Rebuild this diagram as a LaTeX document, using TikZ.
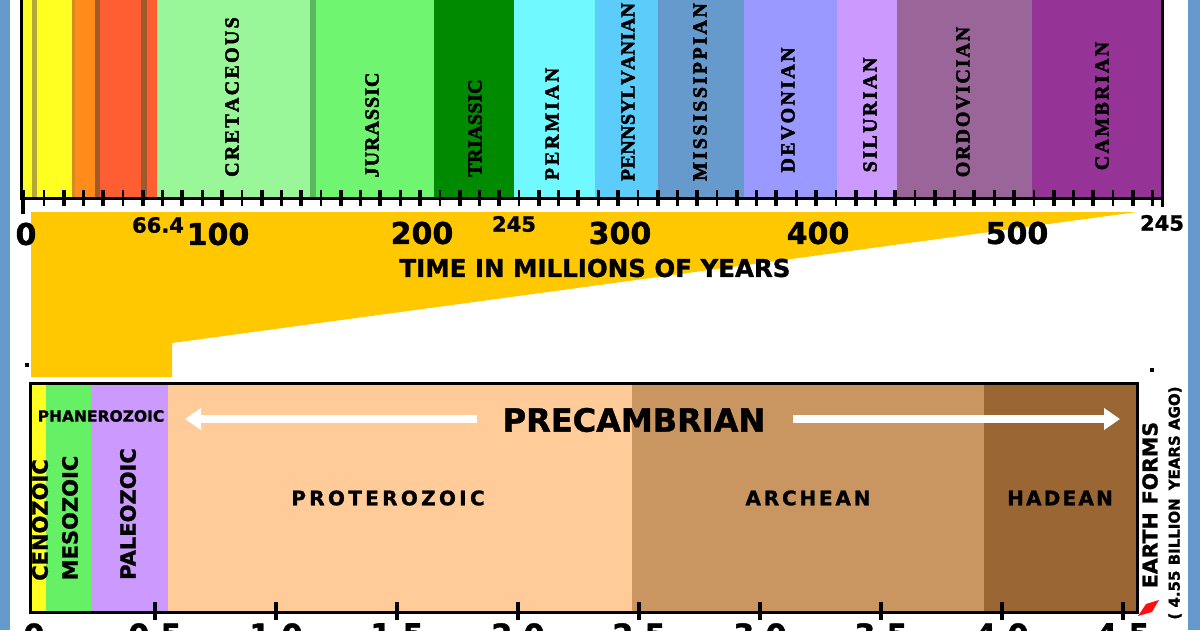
\documentclass[tikz,border=0pt]{standalone}
\usepackage{fontspec}
\setmainfont{DejaVu Sans}[BoldFeatures={FakeBold=1.2}]
\newfontfamily\serifb{Liberation Serif}[BoldFeatures={FakeBold=2.5}]
\usetikzlibrary{arrows.meta}
\definecolor{cBlue}{HTML}{6699CC}
\definecolor{cYel}{HTML}{FFFF22}
\definecolor{cOlive}{HTML}{B4A838}
\definecolor{cOrgLine}{HTML}{D98A1F}
\definecolor{cOrange}{HTML}{FF8C1A}
\definecolor{cBrown}{HTML}{A0592A}
\definecolor{cRed}{HTML}{FF5E33}
\definecolor{cLgreen}{HTML}{99F799}
\definecolor{cStripe}{HTML}{5CB85C}
\definecolor{cGreen}{HTML}{70F570}
\definecolor{cDgreen}{HTML}{008A00}
\definecolor{cCyan}{HTML}{70FAFF}
\definecolor{cLblue}{HTML}{5CCCFA}
\definecolor{cSteel}{HTML}{6699CC}
\definecolor{cPeri}{HTML}{9999FF}
\definecolor{cLpurp}{HTML}{CC99FF}
\definecolor{cMauve}{HTML}{9A6699}
\definecolor{cPurp}{HTML}{953397}
\definecolor{cGold}{HTML}{FFC800}
\definecolor{cMes}{HTML}{66F066}
\definecolor{cPro}{HTML}{FFCC99}
\definecolor{cArc}{HTML}{C99662}
\definecolor{cHad}{HTML}{9A6634}
\definecolor{cFlag}{HTML}{FF1010}
\newdimen\lsp
\def\spaceout#1{\spaceoutA#1\relax\unskip}
\def\spaceoutA#1{\ifx#1\relax\else#1\hskip\lsp\expandafter\spaceoutA\fi}
\tikzset{
  period/.style={rotate=90, inner sep=0pt, font=\serifb\bfseries\fontsize{20}{20}\selectfont},
  bignum/.style={inner sep=0pt, font=\bfseries\fontsize{30}{30}\selectfont},
  smallnum/.style={inner sep=0pt, font=\bfseries\fontsize{21}{21}\selectfont},
  eralbl/.style={rotate=90, inner sep=0pt, font=\bfseries\fontsize{21}{21}\selectfont},
  eonlbl/.style={inner sep=0pt, font=\bfseries\fontsize{20}{20}\selectfont},
  bigarrow/.style={white, line width=8pt, -{Triangle[length=16pt,width=21pt]}},
  tickline/.style={line width=4pt},
  border/.style={line width=3pt}
}
\begin{document}
\begin{tikzpicture}[x=1pt,y=-1pt]
\useasboundingbox (0,0) rectangle (1200,630);
\clip (0,0) rectangle (1200,630);
\fill[white] (0,0) rectangle (1200,630);
% blue frame
\fill[cBlue] (0,0) rectangle (10,630);
\fill[cBlue] (1188,0) rectangle (1200,630);
% ===== top chart bands
\fill[cYel] (22,0) rectangle (72,197);
\fill[cOlive] (32,0) rectangle (37,197);
\fill[cOrgLine] (72,0) rectangle (75,197);
\fill[cOrange] (75,0) rectangle (95,197);
\fill[cBrown] (95,0) rectangle (100,197);
\fill[cRed] (100,0) rectangle (157,197);
\fill[cBrown] (141,0) rectangle (147,197);
\fill[cLgreen] (157,0) rectangle (310,197);
\fill[cStripe] (310,0) rectangle (316,197);
\fill[cGreen] (316,0) rectangle (434,197);
\fill[cDgreen] (434,0) rectangle (514,197);
\fill[cCyan] (514,0) rectangle (595,197);
\fill[cLblue] (595,0) rectangle (658,197);
\fill[cSteel] (658,0) rectangle (744,197);
\fill[cPeri] (744,0) rectangle (837,197);
\fill[cLpurp] (837,0) rectangle (897,197);
\fill[cMauve] (897,0) rectangle (1032,197);
\fill[cPurp] (1032,0) rectangle (1162,197);
% period labels
\node[period] (cre) at (232,97) {\lsp=2.3pt\spaceout{CRETACEOUS}};
\node[period] (jur) at (372,125) {\lsp=1pt\spaceout{JURASSIC}};
\node[period] (tri) at (475,128) {\lsp=0.4pt\spaceout{TRIASSIC}};
\node[period] (per) at (552,124) {\lsp=2.8pt\spaceout{PERMIAN}};
\node[period] (pen) at (628,92) {\lsp=0.4pt\spaceout{PENNSYLVANIAN}};
\node[period] (mis) at (700,92) {\lsp=2.5pt\spaceout{MISSISSIPPIAN}};
\node[period] (dev) at (788,110) {\lsp=2.3pt\spaceout{DEVONIAN}};
\node[period] (sil) at (870,115) {\lsp=2.4pt\spaceout{SILURIAN}};
\node[period] (ord) at (963,102) {\lsp=1.9pt\spaceout{ORDOVICIAN}};
\node[period] (cam) at (1102,106) {\lsp=2.3pt\spaceout{CAMBRIAN}};
% top axis
\draw[border] (21,0) -- (21,199);
\draw[border] (1162,0) -- (1162,207);
\draw[border] (20,198) -- (1163.5,198);
\draw[tickline] (23,190) -- (23,214);
\foreach \i in {1,...,57}{
  \pgfmathsetmacro\tx{24+19.8*\i}
  \pgfmathsetmacro\tw{isodd(\i) ? 2.6 : 4}
  \draw[line width=\tw pt] (\tx,190) -- (\tx,206);
}
% gold wedge
\fill[cGold] (31,212) -- (1137,212) -- (172,343) -- (172,377) -- (31,377) -- cycle;
% axis numbers
\node[bignum] (n0) at (26,234) {0};
\node[smallnum] (n66) at (158,225) {66.4};
\node[bignum] (n100) at (218,234) {100};
\node[bignum] (n200) at (422,233) {200};
\node[smallnum] (n245a) at (514,224) {245};
\node[bignum] (n300) at (620,233) {300};
\node[bignum] (n400) at (818,233) {400};
\node[bignum] (n500) at (1017,233) {500};
\node[smallnum] (n245b) at (1162,223) {245};
\node[inner sep=0pt, font=\bfseries\fontsize{24.5}{24.5}\selectfont] (time) at (595,268) {TIME IN MILLIONS OF YEARS};
% dots
\fill (25,363) rectangle (29,367);
\fill (1150,368) rectangle (1154,372);
% ===== bottom chart
\fill[cYel] (30,383) rectangle (46,612);
\fill[cMes] (46,383) rectangle (91,612);
\fill[cLpurp] (91,383) rectangle (168,612);
\fill[cPro] (168,383) rectangle (632,612);
\fill[cArc] (632,383) rectangle (984,612);
\fill[cHad] (984,383) rectangle (1137,612);
\draw[border] (30,383) rectangle (1137,612);
\foreach \v/\l in {0.5/0.5,1/1.0,1.5/1.5,2/2.0,2.5/2.5,3/3.0,3.5/3.5,4/4.0,4.5/4.5}{
  \draw[tickline] ({34+242*\v},602) -- ({34+242*\v},620);
  \node[bignum, anchor=north] (b\l) at ({34+242*\v},623) {\l};
}
\node[bignum, anchor=north] (b0) at (34,623) {0};
% eras
\node[inner sep=0pt, font=\bfseries\fontsize{15.5}{15.5}\selectfont] (phan) at (101,416) {PHANEROZOIC};
\node[eralbl] (ceno) at (40,520) {CENOZOIC};
\node[eralbl] (meso) at (70,518) {MESOZOIC};
\node[eralbl] (paleo) at (128,514) {PALEOZOIC};
\node[inner sep=0pt, font=\bfseries\fontsize{32}{32}\selectfont] (pre) at (634,420) {PRECAMBRIAN};
\coordinate (la1) at (477,419);
\coordinate (la2) at (185,419);
\coordinate (ra1) at (793,419);
\coordinate (ra2) at (1120,419);
\draw[bigarrow] (la1) -- (la2);
\draw[bigarrow] (ra1) -- (ra2);
\node[eonlbl] (prot) at (388,498) {\lsp=3.3pt\spaceout{PROTEROZOIC}};
\node[eonlbl] (arch) at (808,498) {\lsp=2.8pt\spaceout{ARCHEAN}};
\node[eonlbl] (hade) at (1060,498) {\lsp=2.2pt\spaceout{HADEAN}};
% earth forms
\node[rotate=90, inner sep=0pt, font=\bfseries\fontsize{20.5}{20.5}\selectfont] (earth) at (1150,505) {EARTH\hskip 8pt FORMS};
\node[rotate=90, inner sep=0pt, font=\bfseries\fontsize{15}{15}\selectfont] (bya) at (1175,503) {( 4.55 BILLION\hskip 8pt YEARS AGO)};
\fill[cFlag] (1138,616) -- (1146,604) -- (1159,600) -- (1152,612) -- cycle;
\end{tikzpicture}
\end{document}
